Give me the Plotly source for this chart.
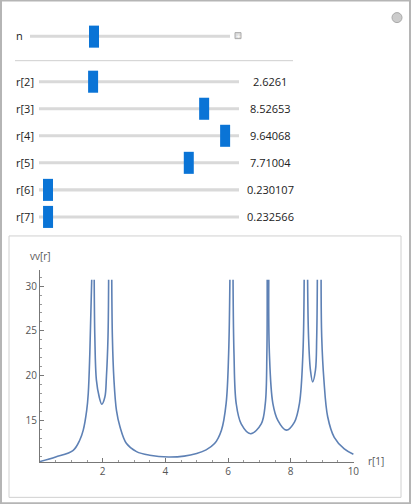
import plotly.graph_objects as go

# curve vv[r]; None splits the branches at each pole
r1 = [0, 0.5, 1.06, 1.27, 1.38, 1.49, 1.54, 1.59, 1.65, None,
      1.73, 1.75, 1.80, 1.89, 1.97, 2.07, 2.12, 2.17, 2.19, None,
      2.29, 2.31, 2.36, 2.44, 2.55, 2.76, 3.08, 3.5, 4.1, 4.6, 5.0, 5.3, 5.57, 5.79, 5.94, 6.02, 6.06, None,
      6.16, 6.19, 6.26, 6.42, 6.72, 7.06, 7.19, 7.24, 7.25, None,
      7.30, 7.32, 7.43, 7.59, 7.86, 8.12, 8.28, 8.39, 8.43, None,
      8.54, 8.57, 8.63, 8.70, 8.79, 8.83, 8.85, None,
      8.97, 8.99, 9.06, 9.18, 9.39, 9.71, 10.0]
vv = [10.4, 10.9, 11.65, 12.8, 13.9, 16.1, 18.0, 22.5, 30.7, None,
      30.7, 24.3, 19.5, 17.6, 16.8, 17.6, 19.9, 24.3, 30.7, None,
      30.7, 24.3, 19.5, 16.1, 14.3, 12.4, 11.5, 11.1, 10.9, 11.0, 11.3, 11.7, 12.4, 13.9, 16.9, 22.5, 30.7, None,
      30.7, 22.5, 16.9, 14.6, 13.5, 14.6, 16.9, 22.5, 30.7, None,
      30.7, 22.5, 16.9, 15.0, 13.9, 14.8, 16.9, 22.5, 30.7, None,
      30.7, 24.3, 20.6, 19.3, 20.6, 24.3, 30.7, None,
      30.7, 24.3, 19.5, 15.4, 13.1, 11.8, 11.2]

slider_names = ["r[2]", "r[3]", "r[4]", "r[5]", "r[6]", "r[7]"]
slider_values = [2.6261, 8.52653, 9.64068, 7.71004, 0.230107, 0.232566]
slider_labels = ["2.6261", "8.52653", "9.64068", "7.71004", "0.230107", "0.232566"]

W, H = 411, 504
X0, X1 = 40, 354      # pixel span of the plot area
Y0, Y1 = 270, 461.7


def px(x):
    return (x - X0) / (X1 - X0)


def py(y):
    return (Y1 - y) / (Y1 - Y0)


fig = go.Figure()
fig.add_trace(go.Scatter(x=r1, y=vv, mode="lines", line=dict(color="#5E81B5", width=1.6),
                         line_shape="spline", connectgaps=False, hoverinfo="skip"))

shapes = []
annots = []
grey = "#d9d9d9"
blue = "#0a74d6"


def rect(x0, y0, x1, y1, **kw):
    shapes.append(dict(type="rect", xref="paper", yref="paper", x0=px(x0), x1=px(x1),
                       y0=py(y1), y1=py(y0), layer="below", **kw))


def text(x, y, s, anchor="left", size=11, color="#222"):
    annots.append(dict(xref="paper", yref="paper", x=px(x), y=py(y), text=s, showarrow=False,
                       xanchor=anchor, yanchor="middle", font=dict(size=size, color=color)))


# outer panel and plot box
rect(1, 1, 410, 503, line=dict(color="#b5b5b5", width=2), fillcolor="white")
rect(9, 236, 401, 497, line=dict(color="#d0d0d0", width=1), fillcolor="white")

# n slider
text(14, 36, "n")
rect(30, 35, 230, 38, line=dict(width=0), fillcolor=grey)
rect(89, 26, 99, 48, line=dict(width=0), fillcolor=blue)
rect(235, 33, 241, 39, line=dict(color="#aaa", width=1), fillcolor="#ddd")
text(238, 36, "+", anchor="center", size=8, color="white")
shapes.append(dict(type="line", xref="paper", yref="paper", x0=px(15), x1=px(293),
                   y0=py(61), y1=py(61), line=dict(color="#cfcfcf", width=1)))
shapes.append(dict(type="circle", xref="paper", yref="paper", x0=px(392), x1=px(402),
                   y0=py(23), y1=py(13), line=dict(color="#aaa", width=1), fillcolor="#ccc"))

for i, (name, val, lab) in enumerate(zip(slider_names, slider_values, slider_labels)):
    y = 82 + 27 * i
    text(14, y, name)
    rect(39, y - 1.5, 239, y + 1.5, line=dict(width=0), fillcolor=grey)
    cx = 48 + (val - 0.23) / (9.9 - 0.23) * (230 - 48)
    rect(cx - 5, y - 11, cx + 5, y + 11, line=dict(width=0), fillcolor=blue)
    text(270, y, lab, anchor="center")

text(28, 256, "vv[r]", size=10, color="#555")
text(366, 461, "r[1]", size=10, color="#555")

fig.update_layout(
    width=W, height=H, margin=dict(l=X0, r=W - X1, t=Y0, b=H - Y1),
    paper_bgcolor="white", plot_bgcolor="rgba(0,0,0,0)", showlegend=False,
    font=dict(family="Open Sans, DejaVu Sans", size=11),
    shapes=shapes, annotations=annots,
)
fig.update_xaxes(range=[0, 10.02], tickvals=[2, 4, 6, 8, 10], showgrid=False, zeroline=False,
                 showline=True, linecolor="#777", ticks="inside", ticklen=4, tickcolor="#777",
                 minor=dict(ticks="inside", ticklen=2, dtick=0.5, tickcolor="#999"),
                 tickfont=dict(size=10, color="#555"))
fig.update_yaxes(range=[10.34, 31.8], tickvals=[15, 20, 25, 30], showgrid=False, zeroline=False,
                 showline=True, linecolor="#777", ticks="inside", ticklen=4, tickcolor="#777",
                 minor=dict(ticks="inside", ticklen=2, dtick=1, tickcolor="#999"),
                 tickfont=dict(size=10, color="#555"))
fig.write_html("out.html", config={"displayModeBar": False},
               post_script="document.body.style.margin='0';document.body.style.overflow='hidden';")
